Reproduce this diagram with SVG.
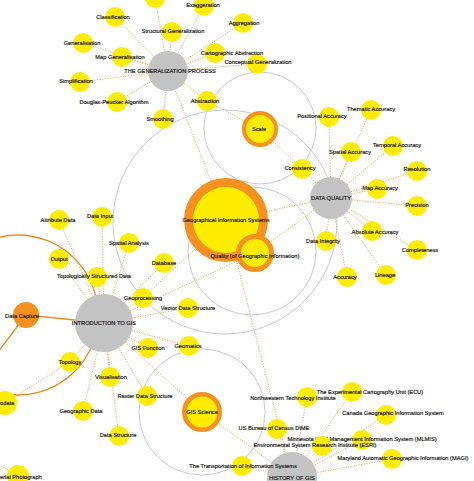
<svg xmlns="http://www.w3.org/2000/svg" width="474" height="481" viewBox="0 0 474 481">
<style>
.ring{fill:none;stroke:#c8cbd3;stroke-width:1}
.oring{fill:none;stroke:#f08a24;stroke-width:1.3}
.e{stroke:#f0a048;stroke-width:0.8;stroke-dasharray:1.3 1.3;fill:none}
.s{stroke:#f08a24;stroke-width:1.3;fill:none}
.n{fill:#ffec00}
.hub{fill:#c3c3c3}
.big{fill:#ffec00;stroke:#f7901e}
.cap{fill:#f7901e}
text{font-family:"Liberation Sans",Arial,sans-serif;font-size:5.7px;fill:#1a1a1a;stroke:#1a1a1a;stroke-width:0.18;text-anchor:middle}
</style>
<rect width="474" height="481" fill="#fff"/>
<g id="rings">
<circle class="ring" cx="225" cy="222" r="112"/>
<circle class="ring" cx="260" cy="128" r="56"/>
<circle class="ring" cx="252" cy="251" r="64"/>
<circle class="ring" cx="202" cy="412" r="63"/>
<circle class="oring" cx="18" cy="315" r="80"/>
</g>
<g id="connectors">
<line class="s" x1="26" y1="315" x2="104" y2="323"/>
<line class="s" x1="26" y1="315" x2="-2" y2="352"/>
<line class="e" x1="168" y1="71" x2="155" y2="-2"/>
<line class="e" x1="168" y1="71" x2="204" y2="6"/>
<line class="e" x1="168" y1="71" x2="115" y2="17"/>
<line class="e" x1="168" y1="71" x2="172" y2="32"/>
<line class="e" x1="168" y1="71" x2="243" y2="23"/>
<line class="e" x1="168" y1="71" x2="83" y2="43"/>
<line class="e" x1="168" y1="71" x2="122" y2="57"/>
<line class="e" x1="168" y1="71" x2="215" y2="53"/>
<line class="e" x1="168" y1="71" x2="257" y2="64"/>
<line class="e" x1="168" y1="71" x2="80" y2="82"/>
<line class="e" x1="168" y1="71" x2="117" y2="102"/>
<line class="e" x1="168" y1="71" x2="207" y2="101"/>
<line class="e" x1="168" y1="71" x2="163" y2="119"/>
<line class="e" x1="168" y1="71" x2="226" y2="220"/>
<line class="e" x1="207" y1="101" x2="260" y2="129"/>
<line class="e" x1="260" y1="129" x2="302" y2="169"/>
<line class="e" x1="302" y1="169" x2="331" y2="198"/>
<line class="e" x1="331" y1="198" x2="329" y2="117"/>
<line class="e" x1="331" y1="198" x2="371" y2="110"/>
<line class="e" x1="331" y1="198" x2="351" y2="152"/>
<line class="e" x1="331" y1="198" x2="393" y2="146"/>
<line class="e" x1="331" y1="198" x2="417" y2="171"/>
<line class="e" x1="331" y1="198" x2="377" y2="189"/>
<line class="e" x1="331" y1="198" x2="417" y2="206"/>
<line class="e" x1="331" y1="198" x2="372" y2="231"/>
<line class="e" x1="331" y1="198" x2="417" y2="250"/>
<line class="e" x1="331" y1="198" x2="386" y2="275"/>
<line class="e" x1="331" y1="198" x2="347" y2="277"/>
<line class="e" x1="331" y1="198" x2="326" y2="241"/>
<line class="e" x1="331" y1="198" x2="226" y2="220"/>
<line class="e" x1="331" y1="198" x2="255" y2="253"/>
<line class="e" x1="226" y1="220" x2="292" y2="477"/>
<line class="e" x1="104" y1="323" x2="59" y2="220"/>
<line class="e" x1="104" y1="323" x2="102" y2="217"/>
<line class="e" x1="104" y1="323" x2="129" y2="243"/>
<line class="e" x1="104" y1="323" x2="59" y2="259"/>
<line class="e" x1="104" y1="323" x2="97" y2="277"/>
<line class="e" x1="104" y1="323" x2="164" y2="263"/>
<line class="e" x1="104" y1="323" x2="143" y2="298"/>
<line class="e" x1="104" y1="323" x2="188" y2="308"/>
<line class="e" x1="104" y1="323" x2="148" y2="348"/>
<line class="e" x1="104" y1="323" x2="189" y2="346"/>
<line class="e" x1="104" y1="323" x2="70" y2="362"/>
<line class="e" x1="104" y1="323" x2="110" y2="377"/>
<line class="e" x1="104" y1="323" x2="147" y2="396"/>
<line class="e" x1="104" y1="323" x2="83" y2="411"/>
<line class="e" x1="104" y1="323" x2="119" y2="436"/>
<line class="e" x1="104" y1="323" x2="202" y2="412"/>
<line class="e" x1="104" y1="323" x2="255" y2="253"/>
<line class="e" x1="143" y1="298" x2="226" y2="220"/>
<line class="e" x1="5" y1="403" x2="70" y2="362"/>
<line class="e" x1="-6" y1="462" x2="18" y2="476"/>
<line class="e" x1="202" y1="412" x2="292" y2="477"/>
<line class="e" x1="292" y1="477" x2="242" y2="466"/>
<line class="e" x1="292" y1="477" x2="277" y2="429"/>
<line class="e" x1="292" y1="477" x2="307" y2="397"/>
<line class="e" x1="292" y1="477" x2="352" y2="392"/>
<line class="e" x1="292" y1="477" x2="386" y2="415"/>
<line class="e" x1="292" y1="477" x2="362" y2="440"/>
<line class="e" x1="292" y1="477" x2="322" y2="446"/>
<line class="e" x1="292" y1="477" x2="392" y2="459"/>
</g>
<g id="n-top"><circle class="n" cx="155" cy="-2" r="10"/></g>
<g id="n-exag"><circle class="n" cx="204" cy="6" r="10"/><text x="203" y="7">Exaggeration</text></g>
<g id="n-class"><circle class="n" cx="115" cy="17" r="10"/><text x="113" y="19">Classification</text></g>
<g id="n-struct"><circle class="n" cx="172" cy="32" r="10"/><text x="173" y="33">Structural Generalization</text></g>
<g id="n-aggr"><circle class="n" cx="243" cy="23" r="10"/><text x="244" y="25">Aggregation</text></g>
<g id="n-genl"><circle class="n" cx="83" cy="43" r="10"/><text x="82" y="45">Generalisation</text></g>
<g id="n-mapgen"><circle class="n" cx="122" cy="57" r="10"/><text x="120" y="59">Map Generalisation</text></g>
<g id="n-concgen"><circle class="n" cx="257" cy="64" r="10"/><text x="258" y="64">Conceptual Generalization</text></g>
<g id="n-cartabs"><circle class="n" cx="215" cy="53" r="10"/><text x="232" y="55">Cartographic Abstraction</text></g>
<g id="n-simpl"><circle class="n" cx="80" cy="82" r="10"/><text x="76" y="83">Simplification</text></g>
<g id="n-dp"><circle class="n" cx="117" cy="102" r="10"/><text x="114" y="104">Douglas-Peucker Algorithm</text></g>
<g id="n-abstr"><circle class="n" cx="207" cy="101" r="10"/><text x="205" y="103">Abstraction</text></g>
<g id="n-smooth"><circle class="n" cx="163" cy="119" r="10"/><text x="160" y="121">Smoothing</text></g>
<g id="hub-gen"><circle class="hub" cx="168" cy="71" r="20"/><text x="170" y="73">THE GENERALIZATION PROCESS</text></g>
<g id="n-scale"><circle class="big" cx="260" cy="129" r="16" stroke-width="4"/><text x="259" y="131">Scale</text></g>
<g id="n-posacc"><circle class="n" cx="329" cy="117" r="10"/><text x="322" y="118">Positional Accuracy</text></g>
<g id="n-them"><circle class="n" cx="371" cy="110" r="10"/><text x="371" y="111">Thematic Accuracy</text></g>
<g id="n-spat"><circle class="n" cx="351" cy="152" r="10"/><text x="350" y="154">Spatial Accuracy</text></g>
<g id="n-temp"><circle class="n" cx="393" cy="146" r="10"/><text x="397" y="147">Temporal Accuracy</text></g>
<g id="n-cons"><circle class="n" cx="302" cy="169" r="10"/><text x="300" y="170">Consistency</text></g>
<g id="n-res"><circle class="n" cx="417" cy="171" r="10"/><text x="417" y="171">Resolution</text></g>
<g id="n-mapacc"><circle class="n" cx="377" cy="189" r="10"/><text x="380" y="190">Map Accuracy</text></g>
<g id="n-prec"><circle class="n" cx="417" cy="206" r="10"/><text x="417" y="207">Precision</text></g>
<g id="n-absacc"><circle class="n" cx="372" cy="231" r="10"/><text x="375" y="234">Absolute Accuracy</text></g>
<g id="n-compl"><circle class="n" cx="417" cy="250" r="10"/><text x="420" y="252">Completeness</text></g>
<g id="n-lin"><circle class="n" cx="386" cy="275" r="10"/><text x="385" y="277">Lineage</text></g>
<g id="n-acc"><circle class="n" cx="347" cy="277" r="10"/><text x="345" y="279">Accuracy</text></g>
<g id="n-integ"><circle class="n" cx="326" cy="241" r="10"/><text x="323" y="243">Data Integrity</text></g>
<g id="hub-dq"><circle class="hub" cx="331" cy="198" r="21"/><text x="331" y="200">DATA QUALITY</text></g>
<g id="n-gis"><circle class="big" cx="226" cy="220" r="37.5" stroke-width="9"/><text x="226" y="222">Geographical Information Systems</text></g>
<g id="n-quality"><circle class="big" cx="255" cy="253" r="16.5" stroke-width="5"/><text x="255" y="258">Quality (of Geographic Information)</text></g>
<g id="n-attr"><circle class="n" cx="59" cy="220" r="10"/><text x="58" y="222">Attribute Data</text></g>
<g id="n-input"><circle class="n" cx="102" cy="217" r="10"/><text x="100" y="218">Data Input</text></g>
<g id="n-spana"><circle class="n" cx="129" cy="243" r="10"/><text x="129" y="245">Spatial Analysis</text></g>
<g id="n-output"><circle class="n" cx="59" cy="259" r="10"/><text x="59" y="261">Output</text></g>
<g id="n-db"><circle class="n" cx="164" cy="263" r="10"/><text x="164" y="265">Database</text></g>
<g id="n-tsd"><circle class="n" cx="97" cy="277" r="10"/><text x="94" y="278">Topologically Structured Data</text></g>
<g id="n-geoproc"><circle class="n" cx="143" cy="298" r="10"/><text x="143" y="300">Geoprocessing</text></g>
<g id="n-vds"><circle class="n" cx="188" cy="308" r="10"/><text x="188" y="310">Vector Data Structure</text></g>
<g id="n-capture"><circle class="cap" cx="26" cy="315" r="13"/><text x="22" y="318">Data Capture</text></g>
<g id="n-gisfn"><circle class="n" cx="148" cy="348" r="10"/><text x="148" y="350">GIS Function</text></g>
<g id="n-geomat"><circle class="n" cx="189" cy="346" r="10"/><text x="188" y="348">Geomatics</text></g>
<g id="n-topo"><circle class="n" cx="70" cy="362" r="10"/><text x="70" y="364">Topology</text></g>
<g id="n-vis"><circle class="n" cx="110" cy="377" r="10"/><text x="111" y="379">Visualisation</text></g>
<g id="n-raster"><circle class="n" cx="147" cy="396" r="10"/><text x="145" y="398">Raster Data Structure</text></g>
<g id="n-geodata"><circle class="n" cx="83" cy="411" r="10"/><text x="81" y="413">Geographic Data</text></g>
<g id="n-ds"><circle class="n" cx="119" cy="436" r="10"/><text x="118" y="437">Data Structure</text></g>
<g id="n-odata"><circle class="n" cx="5" cy="403" r="12"/><text x="0" y="405" style="text-anchor:start">odata</text></g>
<g id="n-aerial"><circle class="n" cx="18" cy="476" r="11"/><text x="0" y="479" style="text-anchor:start">erial Photograph</text></g>
<g id="hub-intro"><circle class="hub" cx="104" cy="323" r="29"/><text x="104" y="325">INTRODUCTION TO GIS</text></g>
<g id="n-gissci"><circle class="big" cx="202" cy="412" r="17.75" stroke-width="4.5"/><text x="202" y="414">GIS Science</text></g>
<g id="hub-hist"><circle class="hub" cx="292" cy="477" r="25"/><text x="292" y="480">HISTORY OF GIS</text></g>
<g id="n-transp"><circle class="n" cx="242" cy="466" r="10"/><text x="243" y="468">The Transportation of Information Systems</text></g>
<g id="n-dime"><circle class="n" cx="277" cy="429" r="10"/><text x="274" y="430">US Bureau of Census DIME</text></g>
<g id="n-nw"><circle class="n" cx="307" cy="397" r="10"/><text x="293" y="400">Northwestern Technology Institute</text></g>
<g id="n-ecu"><circle class="n" cx="352" cy="392" r="10"/><text x="370" y="394">The Experimental Cartography Unit (ECU)</text></g>
<g id="n-cgis"><circle class="n" cx="386" cy="415" r="10"/><text x="393" y="415">Canada Geographic Information System</text></g>
<g id="n-mlmis"><circle class="n" cx="362" cy="440" r="10"/><text x="362" y="441">Minnesota Land Management Information System (MLMIS)</text></g>
<g id="n-esri"><circle class="n" cx="322" cy="446" r="10"/><text x="315" y="447">Environmental System Research Institute (ESRI)</text></g>
<g id="n-magi"><circle class="n" cx="392" cy="459" r="10"/><text x="403" y="460">Maryland Automatic Geographic Information (MAGI)</text></g>
</svg>
